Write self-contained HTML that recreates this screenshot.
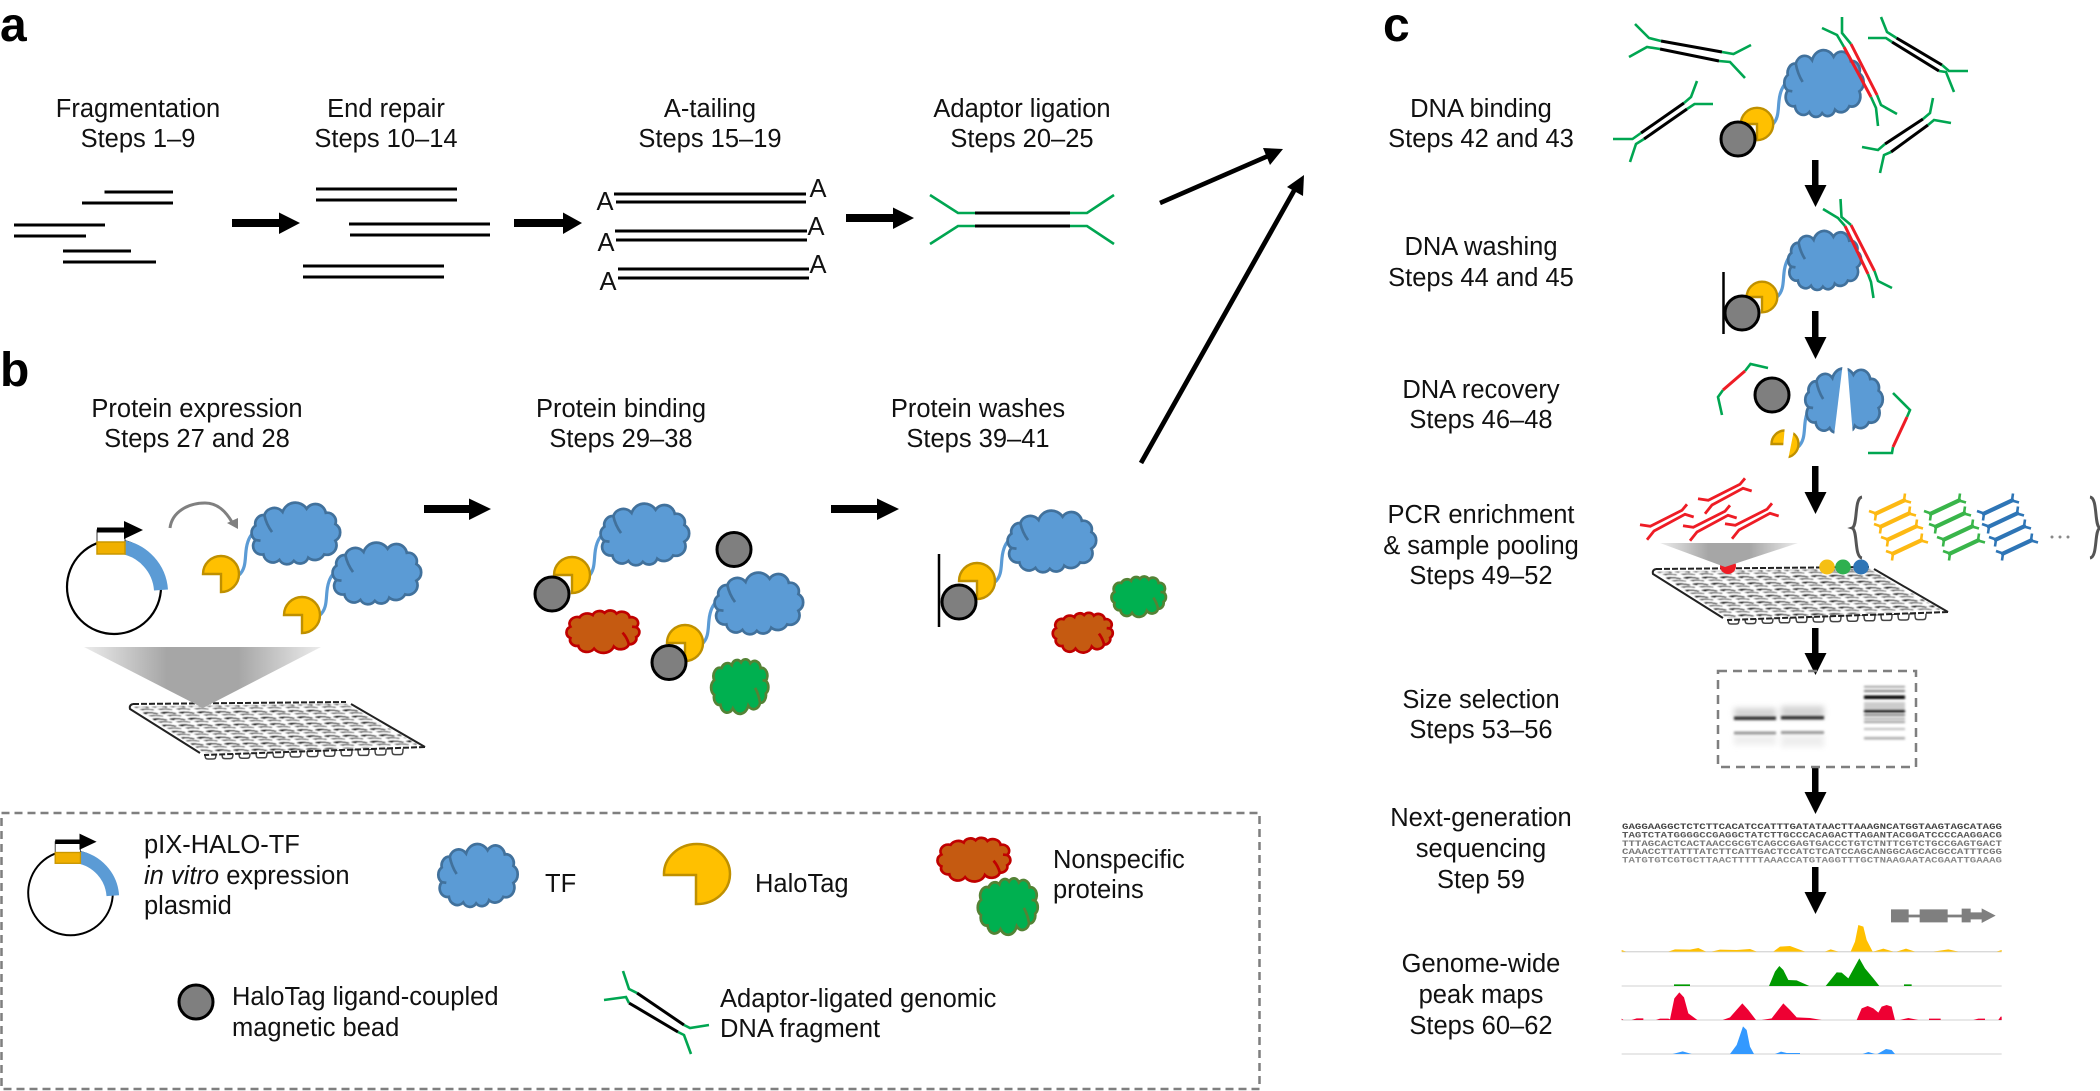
<!DOCTYPE html>
<html><head><meta charset="utf-8"><style>
html,body{margin:0;padding:0;background:#fff}
svg{display:block}
text{font-family:"Liberation Sans",sans-serif;font-size:25.5px;fill:#111}
.m{text-anchor:middle}
.h{font-size:48px;font-weight:bold;fill:#000}
.k{stroke:#000;stroke-width:3;fill:none}
.g{stroke:#00a651;stroke-width:2.6;fill:none}
.r{stroke:#ee1c25;stroke-width:3;fill:none}
.sq{stroke:#5b9bd5;stroke-width:3.2;fill:none}
.bead{fill:#7f7f7f;stroke:#000;stroke-width:3}
.seq{font-family:"Liberation Mono",monospace;font-weight:bold;font-size:8.5px}
</style></head><body>
<svg width="2100" height="1091" viewBox="0 0 2100 1091" xmlns="http://www.w3.org/2000/svg">
<defs>
<linearGradient id="tri"><stop offset="0" stop-color="#ececec"/><stop offset=".35" stop-color="#a6a6a6"/><stop offset=".65" stop-color="#a6a6a6"/><stop offset="1" stop-color="#ececec"/></linearGradient>
<pattern id="wells" patternUnits="userSpaceOnUse" width="1" height="1" patternTransform="matrix(18.2 -.25 9.1 6.25 130 705)">
<rect width="1" height="1" fill="#fff"/>
<path d="M.05 .42Q.4 .05 .8 .45" fill="none" stroke="#000" stroke-width=".24"/>
<path d="M.2 .8Q.5 .58 .9 .82" fill="none" stroke="#444" stroke-width=".2"/>
</pattern>
<filter id="b05" x="-5%" y="-5%" width="110%" height="110%"><feGaussianBlur stdDeviation=".4"/></filter>
<g id="plate">
<path d="M205 753c0 6 1 6 3 6h5c2 0 3 0 3-6l6-.4c0 6 1 6 3 6h5c2 0 3 0 3-6l6-.4c0 6 1 6 3 6h5c2 0 3 0 3-6l6-.4c0 6 1 6 3 6h5c2 0 3 0 3-6l6-.4c0 6 1 6 3 6h5c2 0 3 0 3-6l6-.4c0 6 1 6 3 6h5c2 0 3 0 3-6l6-.4c0 6 1 6 3 6h5c2 0 3 0 3-6l6-.4c0 6 1 6 3 6h5c2 0 3 0 3-6l6-.4c0 6 1 6 3 6h5c2 0 3 0 3-6l6-.4c0 6 1 6 3 6h5c2 0 3 0 3-6l6-.4c0 6 1 6 3 6h5c2 0 3 0 3-6l6-.4c0 6 1 6 3 6h5c2 0 3 0 3-6" fill="#fff" stroke="#444" stroke-width="1.500"/>
<path d="M133 704L346 702Q349 702 351 704L425 747L204 755Q202 755 200 753L130 709Q129 705 133 704Z" fill="#fff"/>
<path d="M134 707L346 704L420 746L205 753Z" fill="url(#wells)" filter="url(#b05)"/>
<path d="M200 753L130 709Q129 705 133 704M351 704L425 747" fill="none" stroke="#222" stroke-width="2"/>
<path d="M133 704L346 702M425 747L204 755" fill="none" stroke="#222" stroke-width="2" stroke-dasharray="6 2"/>
</g>
<g id="cloud">
<path vector-effect="non-scaling-stroke" d="M-34-18.700A11 11 0 0 1-15-22A14 14 0 0 1 10-25.300A11 11 0 0 1 30-21A9 9 0 0 1 40-9.300A10 10 0 0 1 40 8A10 10 0 0 1 28.300 22.300A11 11 0 0 1 11.700 25.700A9 9 0 0 1-3.300 29A9 9 0 0 1-18.300 28A10 10 0 0 1-35 22.300A9 9 0 0 1-43.300 7.300A9 9 0 0 1-43.300-7.700A9 9 0 0 1-34-18.700Z"/>
<path vector-effect="non-scaling-stroke" fill="none" d="M-34-18.700Q-32-9-26-1M-43.300 7.300L-38 8"/>
</g>
<path id="pac" vector-effect="non-scaling-stroke" d="M0 0L-18 0A18 18 0 1 1 0 18Z" fill="#ffc000" stroke="#bf9000" stroke-width="2.400"/>
<path id="sq" class="sq" d="M0 0C7-6 6-16 7-24C8-34 11-40 16-44"/>
<g id="plasmid">
<circle r="47" fill="none" stroke="#000" stroke-width="2.200"/>
<path d="M8-40A47 47 0 0 1 47 3" fill="none" stroke="#5b9bd5" stroke-width="14"/>
<rect x="-17" y="-57" width="28" height="12" fill="#fff" stroke="#333" stroke-width="1"/>
<rect x="-17" y="-45" width="28" height="12" fill="#f0b000" stroke="#c99700" stroke-width="1.500"/>
<path d="M-17-59.500H10V-66L29-57L10-48V-54.500H-17Z" fill="#000"/>
</g>
<g id="mini" fill="none" stroke-width="2.800">
<path d="M-27 3.700L-16.700 5.300L15-10.700L20-16.700"/>
<path d="M-20 18.700L-13 10L18-6.700L26.700-4"/>
</g>
<g id="cm" fill="none">
<path d="M-16 7.500L16-7.500" stroke-width="4.200"/>
<path d="M-21 4L-14 6.500L-15 13.500M15-13.500L14-6.500L21-4.500" stroke-width="2.600"/>
</g>
<filter id="b1" x="-20%" y="-100%" width="140%" height="300%"><feGaussianBlur stdDeviation="1"/></filter>
<filter id="b3" x="-20%" y="-50%" width="140%" height="200%"><feGaussianBlur stdDeviation="3"/></filter>
</defs>
<rect width="2100" height="1091" fill="#fff"/>

<text class="h" x="0" y="41">a</text>
<text class="h" x="0" y="386">b</text>
<text class="h" x="1383" y="41">c</text>

<text class="m" x="138" y="117">Fragmentation</text><text class="m" x="138" y="147">Steps 1–9</text>
<text class="m" x="386" y="117">End repair</text><text class="m" x="386" y="147">Steps 10–14</text>
<text class="m" x="710" y="117">A-tailing</text><text class="m" x="710" y="147">Steps 15–19</text>
<text class="m" x="1022" y="117">Adaptor ligation</text><text class="m" x="1022" y="147">Steps 20–25</text>

<path class="k" d="M104.500 192H173M82 203H173M14 225H105M14 236H86M63 251H131M63 262H156"/>
<path class="k" d="M316 189H457M316 200H457M349 224H490M350 235H490M303 266H444M303 277H444"/>
<path class="k" d="M614 194H806M616 202H806M615 231H807M616 240H807M618 269H809M618 278H809"/>
<text class="m" x="605" y="210">A</text><text class="m" x="818" y="197">A</text>
<text class="m" x="606" y="251">A</text><text class="m" x="816" y="235">A</text>
<text class="m" x="608" y="290">A</text><text class="m" x="818" y="273">A</text>
<path class="k" d="M975 213H1070M975 226H1070"/>
<path class="g" d="M930 195L958 213H975M930 244L958 226H975M1114 195L1087 213H1070M1114 244L1087 226H1070"/>

<path d="M232 219H279V212.500L300 223L279 234V227H232Z"/>
<path d="M514 219H563V212.500L582 223L563 234V227H514Z"/>
<path d="M846 214H893V207.500L914 218L893 229V222H846Z"/>
<path d="M1160 203L1268 156" stroke="#000" stroke-width="4.500"/>
<path d="M1283 149L1263 148L1270 165Z"/>
<path d="M1141 463L1295 189" stroke="#000" stroke-width="4.800"/>
<path d="M1304 175L1287 187L1303 196Z"/>

<text class="m" x="197" y="417">Protein expression</text><text class="m" x="197" y="447">Steps 27 and 28</text>
<text class="m" x="621" y="417">Protein binding</text><text class="m" x="621" y="447">Steps 29–38</text>
<text class="m" x="978" y="417">Protein washes</text><text class="m" x="978" y="447">Steps 39–41</text>
<path d="M424 505H469V498.500L491 509L469 520V513H424Z"/>
<path d="M831 505H877V498.500L899 509L877 520V513H831Z"/>

<use href="#plasmid" transform="translate(114 587)"/>
<path d="M170 528C172 512 188 503 205 503C218 503 226 512 232 522" fill="none" stroke="#808080" stroke-width="3"/>
<path d="M238 529L227 523L238 518Z" fill="#808080"/>
<use href="#sq" transform="translate(239 575)"/>
<use href="#cloud" fill="#5b9bd5" stroke="#41719c" stroke-width="2.700" transform="translate(297 533) scale(.96)"/>
<use href="#pac" transform="translate(221 574)"/>
<use href="#sq" transform="translate(320 615)"/>
<use href="#cloud" fill="#5b9bd5" stroke="#41719c" stroke-width="2.700" transform="translate(378 573) scale(.96)"/>
<use href="#pac" transform="translate(302 615)"/>
<use href="#plate"/>
<path d="M84 647H321L203 708Z" fill="url(#tri)"/>

<use href="#sq" transform="translate(588 577)"/>
<use href="#cloud" fill="#5b9bd5" stroke="#41719c" stroke-width="2.700" transform="translate(646 534) scale(.96)"/>
<use href="#pac" transform="translate(572 575)"/>
<circle class="bead" cx="552" cy="594" r="17"/>
<circle class="bead" cx="734" cy="549.500" r="17"/>
<use href="#sq" transform="translate(702 644)"/>
<use href="#cloud" fill="#5b9bd5" stroke="#41719c" stroke-width="2.700" transform="translate(760 603) scale(.96)"/>
<use href="#pac" transform="translate(685 643)"/>
<circle class="bead" cx="669" cy="662.500" r="17"/>
<use href="#cloud" fill="#c55a11" stroke="#c00000" stroke-width="2.700" transform="translate(602 632) rotate(180) scale(.79 .66)"/>
<use href="#cloud" fill="#00b050" stroke="#548235" stroke-width="2.700" transform="translate(739 687) rotate(180) scale(.62 .85)"/>

<use href="#sq" transform="translate(995 582)"/>
<use href="#cloud" fill="#5b9bd5" stroke="#41719c" stroke-width="2.700" transform="translate(1053 541) scale(.96)"/>
<use href="#pac" transform="translate(977 581)"/>
<path d="M939 554V627" stroke="#000" stroke-width="2.500"/>
<circle class="bead" cx="959" cy="602" r="17"/>
<use href="#cloud" fill="#00b050" stroke="#548235" stroke-width="2.700" transform="translate(1138 597) rotate(180) scale(.59 .63)"/>
<use href="#cloud" fill="#c55a11" stroke="#c00000" stroke-width="2.700" transform="translate(1082 633) rotate(180) scale(.65 .62)"/>

<rect x="1.500" y="813" width="1258" height="276" fill="none" stroke="#7f7f7f" stroke-width="2.500" stroke-dasharray="8 5"/>
<use href="#plasmid" transform="translate(70.500 893) scale(.9)"/>
<text x="144" y="853">pIX-HALO-TF</text>
<text x="144" y="884"><tspan font-style="italic">in vitro</tspan> expression</text>
<text x="144" y="914">plasmid</text>
<use href="#cloud" fill="#5b9bd5" stroke="#41719c" stroke-width="2.700" transform="translate(479 875) scale(.86 .98)"/>
<text x="545" y="892">TF</text>
<path d="M696 875H664A33 30 0 1 1 696 904Z" fill="#ffc000" stroke="#bf9000" stroke-width="2.500"/>
<text x="755" y="892">HaloTag</text>
<use href="#cloud" fill="#c55a11" stroke="#c00000" stroke-width="2.700" transform="translate(973 860) rotate(180) scale(.79 .68)"/>
<use href="#cloud" fill="#00b050" stroke="#548235" stroke-width="2.700" transform="translate(1007 907) rotate(180) scale(.65 .88)"/>
<text x="1053" y="868">Nonspecific</text><text x="1053" y="898">proteins</text>
<circle class="bead" cx="196" cy="1002" r="17"/>
<text x="232" y="1005">HaloTag ligand-coupled</text><text x="232" y="1036">magnetic bead</text>
<path class="k" d="M637 993L684 1025M629 1003L678 1032"/>
<path class="g" d="M623 971L629 989L637 993M604 1000L626 997L629 1003M709 1025L690 1028L684 1025M691 1054L684 1035L678 1032"/>
<text x="720" y="1007">Adaptor-ligated genomic</text><text x="720" y="1037">DNA fragment</text>

<text class="m" x="1481" y="117">DNA binding</text><text class="m" x="1481" y="147">Steps 42 and 43</text>
<text class="m" x="1481" y="255">DNA washing</text><text class="m" x="1481" y="286">Steps 44 and 45</text>
<text class="m" x="1481" y="398">DNA recovery</text><text class="m" x="1481" y="428">Steps 46–48</text>
<text class="m" x="1481" y="523">PCR enrichment</text><text class="m" x="1481" y="554">&amp; sample pooling</text><text class="m" x="1481" y="584">Steps 49–52</text>
<text class="m" x="1481" y="708">Size selection</text><text class="m" x="1481" y="738">Steps 53–56</text>
<text class="m" x="1481" y="826">Next-generation</text><text class="m" x="1481" y="857">sequencing</text><text class="m" x="1481" y="888">Step 59</text>
<text class="m" x="1481" y="972">Genome-wide</text><text class="m" x="1481" y="1003">peak maps</text><text class="m" x="1481" y="1034">Steps 60–62</text>

<path d="M1812 160H1818.500V185H1826.500L1815.500 207L1804.500 185H1812Z"/>
<path d="M1812 311H1818.500V337H1826.500L1815.500 359L1804.500 337H1812Z"/>
<path d="M1812 466H1818.500V492H1826.500L1815.500 514L1804.500 492H1812Z"/>
<path d="M1812 628H1818.500V653H1826.500L1815.500 675L1804.500 653H1812Z"/>
<path d="M1812 767H1818.500V792H1826.500L1815.500 814L1804.500 792H1812Z"/>
<path d="M1812 867H1818.500V892H1826.500L1815.500 914L1804.500 892H1812Z"/>

<path class="k" d="M1661 41L1722 52M1660 49L1719 61"/>
<path class="g" d="M1635 24L1649 38L1661 41M1629 57L1647 47L1660 49M1751 45L1733.500 54L1722 52M1745 78L1730 62L1719 61"/>
<path class="k" d="M1684 103L1641 133M1687 109L1644 139"/>
<path class="g" d="M1697 81L1691 97L1684 103M1713 104H1694.500L1687 109M1613 139H1632.500L1641 133M1630 162L1636 144L1644 139"/>
<path class="k" d="M1896.500 38L1942 65M1892 42L1939 71"/>
<path class="g" d="M1881 17L1887 32L1896.500 38M1868 38H1886L1892 42M1968 71H1949L1942 65M1954 92L1946 72L1939 71"/>
<path class="k" d="M1923 119L1885 144M1928 125L1891 152"/>
<path class="g" d="M1933 98L1930 113L1923 119M1951 123L1934 120L1928 125M1862 147L1878 150L1885 144M1880 173L1884 155L1891 152"/>
<use href="#sq" transform="translate(1772 125)"/>
<use href="#cloud" fill="#5b9bd5" stroke="#41719c" stroke-width="2.700" transform="translate(1825 83) scale(.86 1.04)"/>
<path class="r" d="M1844 47L1871 97M1851 44L1877 95"/>
<path class="g" d="M1822 28L1837 35L1844 47M1842 17L1842 33L1851 44M1897 114L1881 105L1877 95M1878 126L1876 108L1871 97"/>
<use href="#pac" transform="translate(1757 124) scale(.9)"/>
<circle class="bead" cx="1738" cy="139" r="17"/>

<use href="#sq" transform="translate(1777 297)"/>
<use href="#cloud" fill="#5b9bd5" stroke="#41719c" stroke-width="2.700" transform="translate(1825.500 260) scale(.79 .92)"/>
<path class="r" d="M1845 226L1868 274M1851 225L1874.500 271"/>
<path class="g" d="M1823 209L1838 218L1845 226M1840.500 199L1841.500 217L1851 225M1892 288L1878 281L1874.500 271M1873.500 298L1871 282L1868 274"/>
<use href="#pac" transform="translate(1762 297) scale(.85)"/>
<path d="M1723.500 272V334" stroke="#000" stroke-width="2.500"/>
<circle class="bead" cx="1742" cy="313" r="17"/>

<path class="g" d="M1768 368L1750.500 364L1745 371M1722 415L1718 397L1723 390"/>
<path class="r" d="M1745 371L1723 390"/>
<circle class="bead" cx="1772" cy="395" r="17"/>
<path class="g" d="M1893 393L1910 410L1907 417M1893 447L1892 453H1868"/>
<path class="r" d="M1907 417L1893 447"/>
<use href="#sq" transform="translate(1798 447)"/>
<use href="#cloud" fill="#5b9bd5" stroke="#41719c" stroke-width="2.700" transform="translate(1845 400) scale(.84 1)"/>
<path d="M1843 362L1847 362L1853 436H1834Z" fill="#fff"/>
<use href="#pac" transform="translate(1785 444) scale(.75)"/>
<path d="M1785 425L1794 430L1788 460L1782 460Z" fill="#fff"/>

<use href="#plate" transform="translate(1523 -135)"/>
<circle cx="1728" cy="566" r="8" fill="#ee1c25"/>
<path d="M1660 543H1798L1725 567Z" fill="url(#tri)"/>
<ellipse cx="1827" cy="567" rx="7.800" ry="7.500" fill="#f5bf14"/>
<ellipse cx="1843" cy="567" rx="7.800" ry="7.500" fill="#2fb04f"/>
<ellipse cx="1861" cy="567" rx="7.800" ry="7.500" fill="#2e75b6"/>
<use href="#mini" stroke="#ee1c25" transform="translate(1725 495)"/>
<use href="#mini" stroke="#ee1c25" transform="translate(1667 521)"/>
<use href="#mini" stroke="#ee1c25" transform="translate(1710 522)"/>
<use href="#mini" stroke="#ee1c25" transform="translate(1752 520)"/>
<g stroke="#fdb913">
<use href="#cm" transform="translate(1890 507)"/><use href="#cm" transform="translate(1895 520)"/><use href="#cm" transform="translate(1902 533)"/><use href="#cm" transform="translate(1907 547)"/>
</g>
<g stroke="#39b54a">
<use href="#cm" transform="translate(1945 507)"/><use href="#cm" transform="translate(1950 520)"/><use href="#cm" transform="translate(1958 533)"/><use href="#cm" transform="translate(1964 547)"/>
</g>
<g stroke="#2e75b6">
<use href="#cm" transform="translate(1998 507)"/><use href="#cm" transform="translate(2003 520)"/><use href="#cm" transform="translate(2010 533)"/><use href="#cm" transform="translate(2017 547)"/>
</g>
<path d="M1862 497C1854 498 1858 526 1852 528C1858 530 1854 557 1862 558" fill="none" stroke="#555" stroke-width="3"/>
<path d="M2090 497C2098 498 2094 526 2100 528C2094 530 2098 557 2090 558" fill="none" stroke="#555" stroke-width="3"/>
<g fill="#888"><circle cx="2052" cy="537" r="1.500"/><circle cx="2060" cy="537" r="1.500"/><circle cx="2068" cy="537" r="1.500"/></g>

<rect x="1718" y="671" width="198" height="96" fill="none" stroke="#7f7f7f" stroke-width="2.500" stroke-dasharray="9 6"/>
<g filter="url(#b3)" fill="#c4c4c4" opacity=".75"><rect x="1734" y="708" width="42" height="10"/><rect x="1781" y="706" width="43" height="12"/></g>
<g filter="url(#b3)" fill="#eee"><rect x="1734" y="735" width="42" height="10"/><rect x="1781" y="735" width="43" height="12"/></g>
<g filter="url(#b1)">
<rect x="1734" y="716.500" width="42" height="3.500" fill="#333"/>
<rect x="1781" y="716" width="43" height="3.500" fill="#333"/>
<rect x="1734" y="731.500" width="42" height="3" fill="#999"/>
<rect x="1781" y="731" width="43" height="3" fill="#999"/>
<rect x="1864" y="686" width="41" height="1.500" fill="#888"/>
<rect x="1864" y="690" width="41" height="2" fill="#777"/>
<rect x="1864" y="695.500" width="41" height="3.500" fill="#000"/>
<rect x="1864" y="702" width="41" height="7" fill="#ccc"/>
<rect x="1864" y="709.500" width="41" height="3" fill="#000"/>
<rect x="1864" y="714" width="41" height="2" fill="#777"/>
<rect x="1864" y="718" width="41" height="1.500" fill="#999"/>
<rect x="1864" y="721" width="41" height="2" fill="#999"/>
<rect x="1864" y="728" width="41" height="2" fill="#bbb"/>
<rect x="1864" y="737" width="41" height="2.500" fill="#aaa"/>
</g>

<text class="seq" x="1622" y="829" textLength="380" lengthAdjust="spacingAndGlyphs" style="fill:#444">GAGGAAGGCTCTCTTCACATCCATTTGATATAACTTAAAGNCATGGTAAGTAGCATAGG</text>
<text class="seq" x="1622" y="837.500" textLength="380" lengthAdjust="spacingAndGlyphs" style="fill:#5a5a5a">TAGTCTATGGGGCCGAGGCTATCTTGCCCACAGACTTAGANTACGGATCCCCAAGGACG</text>
<text class="seq" x="1622" y="846" textLength="380" lengthAdjust="spacingAndGlyphs" style="fill:#777">TTTAGCACTCACTAACCGCGTCAGCCGAGTGACCCTGTCTNTTCGTCTGCCGAGTGACT</text>
<text class="seq" x="1622" y="854" textLength="380" lengthAdjust="spacingAndGlyphs" style="fill:#777">CAAACCTTATTTATCTTCATTGACTCCATCTCATCCAGCANGGCAGCACGCCATTTCGG</text>
<text class="seq" x="1622" y="862.500" textLength="380" lengthAdjust="spacingAndGlyphs" style="fill:#8a8a8a">TATGTGTCGTGCTTAACTTTTTAAACCATGTAGGTTTGCTNAAGAATACGAATTGAAAG</text>

<g transform="translate(1580 790) scale(.33333)">
<path d="M933 358H986V374H1019V358H1103V374H1145V356H1172V367H1205V355L1247 377L1205 399V388H1172V397H1145V382H1103V397H1019V382H986V397H933Z" fill="#7f7f7f"/>
<path d="M125 485H1265M125 588H1265M125 690H1265M125 792H1265" stroke="#d9d9d9" stroke-width="4" fill="none"/>
<path fill="#ffc000" d="M125 485V480L138 485ZM265 485L285 478L330 479L355 474L378 485ZM395 485L420 479L470 480L510 477L530 485ZM580 485L600 470L630 468L675 485ZM735 485L752 478L775 485ZM812 485L825 455L835 405L850 410L860 450L878 485ZM880 485L910 476L940 485ZM950 485L978 476L1005 485ZM1060 485L1105 478L1135 485ZM1250 485L1265 480V485Z"/>
<path fill="#009900" d="M282 588V583H330V588ZM567 588L585 545L598 528L610 540L625 570L650 571L688 588ZM737 588L770 547L785 548L805 565L838 505L855 535L880 565L898 588ZM972 588V583H995V588Z"/>
<path fill="#ee0033" d="M125 690V686L130 690ZM155 690L170 685H190V690ZM228 690L240 686H265L270 688L283 625L298 607L312 622L325 670L352 690ZM428 690L450 682L487 640L505 660L528 690ZM545 690L575 685L610 640L630 660L650 682L690 684L725 690ZM830 690L845 655L863 648L880 655L895 668L905 650L920 645L935 650L945 690ZM960 690L985 684L1015 690ZM1047 690V686H1082V690ZM1180 690L1195 686H1215V690ZM1255 690L1262 680L1265 680V690Z"/>
<path fill="#3399ff" d="M278 792L308 784L335 792ZM450 792L470 765L489 709L500 720L510 770L522 792ZM585 792L603 785L620 789H660V792ZM848 792L865 786L885 792ZM892 792L918 777L935 780L945 792Z"/>
</g>
</svg>
</body></html>
